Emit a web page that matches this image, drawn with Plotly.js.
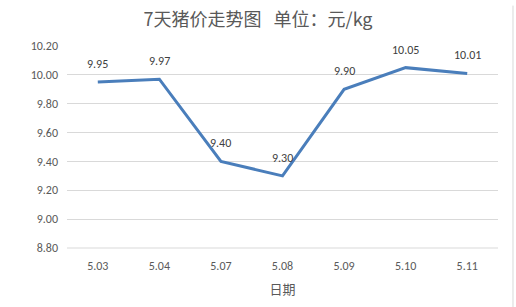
<!DOCTYPE html>
<html><head><meta charset="utf-8">
<script src="https://cdn.plot.ly/plotly-3.0.1.min.js"></script>
<style>html,body{margin:0;padding:0;background:#fff}#c{width:516px;height:307px}</style>
</head><body><div id="c"></div>
<script>
const dates = ["5.03","5.04","5.07","5.08","5.09","5.10","5.11"];
const prices = [9.95, 9.97, 9.40, 9.30, 9.90, 10.05, 10.01];
const priceLabels = ["9.95","9.97","9.40","9.30","9.90","10.05","10.01"];
const yTicks = [8.80, 9.00, 9.20, 9.40, 9.60, 9.80, 10.00, 10.20];

const numFont = "Carlito, Calibri, 'Open Sans', 'Noto Sans CJK SC', sans-serif";
const cjkFont = "'Noto Sans CJK SC', sans-serif";

const trace = {
  x: dates, y: prices, type: 'scatter', mode: 'lines',
  line: {color: '#4a7ebb', width: 3}, hoverinfo: 'skip'
};

const annotations = dates.map((d, i) => ({
  x: i, y: prices[i], xref: 'x', yref: 'y', text: priceLabels[i],
  showarrow: false, yshift: 18, font: {family: numFont, size: 12, color: '#404040'}
}));

const layout = {
  width: 516, height: 307,
  margin: {l: 67, r: 18, t: 46, b: 59},
  paper_bgcolor: '#fff', plot_bgcolor: '#fff',
  showlegend: false,
  title: {text: '7天猪价走势图\u00a0\u00a0\u00a0单位：元/kg', x: 0.5, xanchor: 'center', y: 0.935, yanchor: 'middle',
          font: {family: cjkFont, size: 18, color: '#595959'}},
  xaxis: {
    type: 'category', showgrid: false, zeroline: false,
    showline: false, ticks: '', ticklabelstandoff: 9,
    tickfont: {family: numFont, size: 12, color: '#595959'},
    title: {text: '日期', font: {family: cjkFont, size: 13, color: '#595959'}, standoff: 12},
    range: [-0.5, dates.length - 0.5], fixedrange: true
  },
  yaxis: {
    range: [8.80, 10.20], tickvals: yTicks, ticktext: yTicks.map(v => v.toFixed(2)),
    showgrid: true, gridcolor: '#d9d9d9', gridwidth: 1, zeroline: false, showline: false,
    ticks: '', ticklabelstandoff: 8, tickfont: {family: numFont, size: 12, color: '#595959'},
    automargin: false, fixedrange: true
  },
  annotations: annotations,
  shapes: [
    {type: 'line', xref: 'paper', yref: 'paper', x0: 0, x1: 1, y0: 0, y1: 0, line: {color: '#d9d9d9', width: 1}},
    {type: 'line', xref: 'paper', yref: 'paper', x0: 1.0348, x1: 1.0348, y0: -0.3, y1: 1.2, line: {color: '#d9d9d9', width: 1}}
  ]
};

Plotly.newPlot('c', [trace], layout, {displayModeBar: false, staticPlot: true});
</script></body></html>
